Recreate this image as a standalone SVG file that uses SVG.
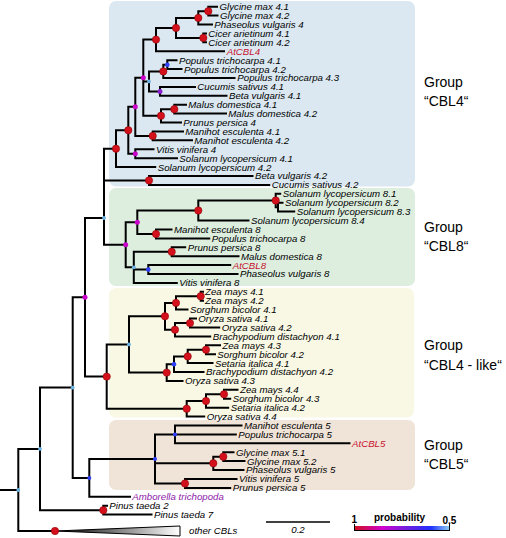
<svg xmlns="http://www.w3.org/2000/svg" width="506" height="538" viewBox="0 0 506 538">
<defs>
<style>
.b{fill:none;stroke:#000;stroke-width:2;stroke-linecap:square}
.t{font-family:"Liberation Sans",Arial,sans-serif;font-style:italic;font-size:9.7px;fill:#000}
.red{fill:#c8102e}
.amb{fill:#8e18a8}
.gl{font-family:"Liberation Sans",Arial,sans-serif;font-size:14px;fill:#000}
.lg{font-family:"Liberation Sans",Arial,sans-serif;font-size:10px;font-weight:bold;fill:#000}
.dr{fill:#d4101c;stroke:#850000;stroke-width:.5}
.dm{fill:#c800c8}
.dv{fill:#8a20d0}
.db{fill:#3040ff}
.dl{fill:#6cb4e4}
</style>
<linearGradient id="prob" x1="0" y1="0" x2="1" y2="0">
<stop offset="0" stop-color="#d0101a"/>
<stop offset="0.3" stop-color="#d000d0"/>
<stop offset="0.55" stop-color="#7020e0"/>
<stop offset="0.8" stop-color="#2030ff"/>
<stop offset="1" stop-color="#90d0f0"/>
</linearGradient>
<linearGradient id="tri" x1="0" y1="0" x2="1" y2="0">
<stop offset="0" stop-color="#000"/>
<stop offset="1" stop-color="#fff"/>
</linearGradient>
</defs>
<rect width="506" height="538" fill="#fff"/>
<g id="groups">
<rect x="109" y="1" width="306" height="185.5" rx="7" fill="#dbe8f1"/>
<rect x="109" y="188" width="306" height="98" rx="7" fill="#ddeedf"/>
<rect x="109" y="288" width="305" height="129.5" rx="7" fill="#f8f8e5"/>
<rect x="109" y="420" width="306" height="70" rx="7" fill="#f0e4d8"/>
</g>
<g id="connectors" class="b">
<path d="M208.3,6.7V15.6M208.3,6.7H217M208.3,15.6H217.5"/>
<path d="M198.3,11.2V24.5M198.3,11.2H208.3M198.3,24.5H212"/>
<path d="M203.3,33.4V42.3M203.3,33.4H206M203.3,42.3H206"/>
<path d="M176,17.9V37.9M176,17.9H198.3M176,37.9H203.3"/>
<path d="M156,27.9V51.3M156,27.9H176M156,51.3H224"/>
<path d="M167.3,60.2V69.1M167.3,60.2H176.5M167.3,69.1H181.5"/>
<path d="M163.3,64.7V78M163.3,64.7H167.3M163.3,78H234.5"/>
<path d="M160,86.9V95.8M160,86.9H195M160,95.8H226.5"/>
<path d="M149,71.4V91.4M149,71.4H163.3M149,91.4H160"/>
<path d="M174.3,104.7V113.6M174.3,104.7H186M174.3,113.6H226"/>
<path d="M161,109.2V122.5M161,109.2H174.3M161,122.5H181"/>
<path d="M143.3,39.6V115.8M143.3,39.6H156M143.3,81.4H149M143.3,115.8H161"/>
<path d="M152.7,131.4V140.3M152.7,131.4H183M152.7,140.3H192"/>
<path d="M135.3,77.7V135.9M135.3,77.7H143.3M135.3,135.9H152.7"/>
<path d="M135.3,149.3V158.2M135.3,149.3H153.5M135.3,158.2H177"/>
<path d="M128.3,106.8V153.8M128.3,106.8H135.3M128.3,153.8H135.3"/>
<path d="M116,130.3V167.1M116,130.3H128.3M116,167.1H155.2"/>
<path d="M149,176V184.9M149,176H252.5M149,184.9H269.2"/>
<path d="M104,148.7V244.8M104,148.7H116M104,180.5H149M104,244.8H125.7"/>
<path d="M278,202.7V211.6M278,202.7H282.5M278,211.6H294.2"/>
<path d="M275.7,193.8V207.2M275.7,193.8H280.2M275.7,207.2H278"/>
<path d="M198.3,200.5V220.5M198.3,200.5H275.7M198.3,220.5H248.5"/>
<path d="M156,229.5V238.4M156,229.5H171.5M156,238.4H209.2"/>
<path d="M137.3,210.5V234M137.3,210.5H198.3M137.3,234H156"/>
<path d="M171.7,247.3V256.2M171.7,247.3H185.2M171.7,256.2H238.5"/>
<path d="M148.3,265.1V274M148.3,265.1H230.2M148.3,274H237.5"/>
<path d="M133.8,251.8V282.9M133.8,251.8H171.7M133.8,269.6H148.3M133.8,282.9H176.8"/>
<path d="M125.7,222.2V267.3M125.7,222.2H137.3M125.7,267.3H133.8"/>
<path d="M200.7,291.8V300.7M200.7,291.8H203M200.7,300.7H203"/>
<path d="M176,296.3V309.6M176,296.3H200.7M176,309.6H187.5"/>
<path d="M190,318.6V327.5M190,318.6H196M190,327.5H219.2"/>
<path d="M175,323.1V336.4M175,323.1H190M175,336.4H210.2"/>
<path d="M165,302.9V329.7M165,302.9H176M165,329.7H175"/>
<path d="M206,345.3V354.2M206,345.3H220M206,354.2H215"/>
<path d="M187.7,349.8V363.1M187.7,349.8H206M187.7,363.1H212.5"/>
<path d="M174,356.4V372M174,356.4H187.7M174,372H203.5"/>
<path d="M166.7,364.2V380.9M166.7,364.2H174M166.7,380.9H182.5"/>
<path d="M129,316.3V372.6M129,316.3H165M129,372.6H166.7"/>
<path d="M224,389.8V398.8M224,389.8H237.5M224,398.8H230.2"/>
<path d="M206,394.3V407.7M206,394.3H224M206,407.7H228.2"/>
<path d="M186.7,401V416.6M186.7,401H206M186.7,416.6H204.2"/>
<path d="M106.7,344.4V408.8M106.7,344.4H129M106.7,408.8H186.7"/>
<path d="M85,218V376.6M85,218H104M85,376.6H106.7"/>
<path d="M175,425.5V443.3M175,425.5H241.5M175,434.4H235.8M175,443.3H349.5"/>
<path d="M223.3,452.2V461.1M223.3,452.2H233.5M223.3,461.1H244.5"/>
<path d="M213.3,456.7V470M213.3,456.7H223.3M213.3,470H243.5"/>
<path d="M185,479V487.9M185,479H236.5M185,487.9H230.2"/>
<path d="M155,434.4V483.5M155,434.4H175M155,463.3H213.3M155,483.5H185"/>
<path d="M89.3,458.9V496.8M89.3,458.9H155M89.3,496.8H130"/>
<path d="M72.7,297.3V477.9M72.7,297.3H85M72.7,477.9H89.3"/>
<path d="M103.3,505.7V514.6M103.3,505.7H107M103.3,514.6H151.5"/>
<path d="M40,387.6V510.2M40,387.6H72.7M40,510.2H103.3"/>
<path d="M18.3,448.9V531M18.3,448.9H40M18.3,531H55M0,490H18.3"/>
</g>
<g id="other-cbls-clade">
<polygon points="55,531 180,526 180,536" fill="url(#tri)" stroke="#000" stroke-width="1"/>
</g>
<g id="support-dots">
<circle class="dr" cx="208.3" cy="11.2" r="3.7"/>
<circle class="dr" cx="198.3" cy="17.9" r="3.7"/>
<circle class="dr" cx="203.3" cy="37.9" r="3.7"/>
<circle class="dr" cx="176" cy="27.9" r="3.7"/>
<circle class="dr" cx="156" cy="39.6" r="3.7"/>
<circle class="dr" cx="163.3" cy="71.4" r="3.7"/>
<circle class="dr" cx="174.3" cy="109.2" r="3.7"/>
<circle class="dr" cx="161" cy="115.8" r="3.7"/>
<circle class="dr" cx="152.7" cy="135.9" r="3.7"/>
<circle class="dr" cx="128.3" cy="130.3" r="3.7"/>
<circle class="dr" cx="116" cy="148.7" r="3.7"/>
<circle class="dr" cx="149" cy="180.5" r="3.7"/>
<circle class="dr" cx="275.7" cy="200.5" r="3.7"/>
<circle class="dr" cx="198.3" cy="210.5" r="3.7"/>
<circle class="dr" cx="156" cy="234" r="3.7"/>
<circle class="dr" cx="171.7" cy="251.8" r="3.7"/>
<circle class="dr" cx="200.7" cy="296.3" r="3.7"/>
<circle class="dr" cx="176" cy="302.9" r="3.7"/>
<circle class="dr" cx="190" cy="323.1" r="3.7"/>
<circle class="dr" cx="175" cy="329.7" r="3.7"/>
<circle class="dr" cx="165" cy="316.3" r="3.7"/>
<circle class="dr" cx="206" cy="349.8" r="3.7"/>
<circle class="dr" cx="187.7" cy="356.4" r="3.7"/>
<circle class="dr" cx="166.7" cy="372.6" r="3.7"/>
<circle class="dr" cx="224" cy="394.3" r="3.7"/>
<circle class="dr" cx="206" cy="401" r="3.7"/>
<circle class="dr" cx="186.7" cy="408.8" r="3.7"/>
<circle class="dr" cx="106.7" cy="376.6" r="3.7"/>
<circle class="dr" cx="223.3" cy="456.7" r="3.7"/>
<circle class="dr" cx="213.3" cy="463.3" r="3.7"/>
<circle class="dr" cx="185" cy="483.5" r="3.7"/>
<circle class="dr" cx="103.3" cy="510.2" r="3.7"/>
<circle class="dr" cx="55" cy="531" r="3.7"/>
<circle class="db" cx="167.3" cy="64.7" r="2.3"/>
<circle class="db" cx="148.3" cy="269.6" r="2.3"/>
<circle class="db" cx="174" cy="364.2" r="2.3"/>
<circle class="db" cx="175" cy="434.4" r="2"/>
<circle class="db" cx="155" cy="458.9" r="2"/>
<circle class="db" cx="89.3" cy="477.9" r="2"/>
<circle class="dv" cx="160" cy="91.4" r="2.5"/>
<circle class="dm" cx="143.3" cy="77.7" r="2.5"/>
<circle class="dm" cx="135.3" cy="106.8" r="2.5"/>
<circle class="dm" cx="135.3" cy="153.8" r="2.5"/>
<circle class="dm" cx="137.3" cy="222.2" r="2.5"/>
<circle class="dm" cx="125.7" cy="244.8" r="2.5"/>
<circle class="dm" cx="85" cy="297.3" r="2.5"/>
<circle class="dl" cx="149" cy="81.4" r="1.9"/>
<circle class="dl" cx="104" cy="218" r="1.9"/>
<circle class="dl" cx="133.8" cy="267.3" r="1.9"/>
<circle class="dl" cx="129" cy="344.4" r="1.9"/>
<circle class="dl" cx="72.7" cy="387.6" r="1.9"/>
<circle class="dl" cx="40" cy="448.9" r="1.9"/>
<circle class="dl" cx="18.3" cy="490" r="1.9"/>
</g>
<g id="leaves" class="t">
<g id="leaf-gm41"><text x="219.5" y="10.1">Glycine max 4.1</text></g>
<g id="leaf-gm42"><text x="220" y="19">Glycine max 4.2</text></g>
<g id="leaf-pv4"><text x="214.3" y="27.9">Phaseolus vulgaris 4</text></g>
<g id="leaf-ca41"><text x="208.3" y="36.8">Cicer arietinum 4.1</text></g>
<g id="leaf-ca42"><text x="208.3" y="45.7">Cicer arietinum 4.2</text></g>
<g id="leaf-atcbl4"><text class="red" x="226.7" y="54.7">AtCBL4</text></g>
<g id="leaf-pt41"><text x="179" y="63.6">Populus trichocarpa 4.1</text></g>
<g id="leaf-pt42"><text x="184" y="72.5">Populus trichocarpa 4.2</text></g>
<g id="leaf-pt43"><text x="237.3" y="81.4">Populus trichocarpa 4.3</text></g>
<g id="leaf-cs41"><text x="197.3" y="90.3">Cucumis sativus 4.1</text></g>
<g id="leaf-bv41"><text x="229" y="99.2">Beta vulgaris 4.1</text></g>
<g id="leaf-md41"><text x="188.3" y="108.1">Malus domestica 4.1</text></g>
<g id="leaf-md42"><text x="228.3" y="117">Malus domestica 4.2</text></g>
<g id="leaf-pp4"><text x="183.3" y="125.9">Prunus persica 4</text></g>
<g id="leaf-me41"><text x="185.3" y="134.8">Manihot esculenta 4.1</text></g>
<g id="leaf-me42"><text x="194.3" y="143.7">Manihot esculenta 4.2</text></g>
<g id="leaf-vv4"><text x="156" y="152.7">Vitis vinifera 4</text></g>
<g id="leaf-sl41"><text x="179.3" y="161.6">Solanum lycopersicum 4.1</text></g>
<g id="leaf-sl42"><text x="157.7" y="170.5">Solanum lycopersicum 4.2</text></g>
<g id="leaf-bv42"><text x="255" y="179.4">Beta vulgaris 4.2</text></g>
<g id="leaf-cs42"><text x="271.7" y="188.3">Cucumis sativus 4.2</text></g>
<g id="leaf-sl81"><text x="282.7" y="197.2">Solanum lycopersicum 8.1</text></g>
<g id="leaf-sl82"><text x="285" y="206.1">Solanum lycopersicum 8.2</text></g>
<g id="leaf-sl83"><text x="296.7" y="215">Solanum lycopersicum 8.3</text></g>
<g id="leaf-sl84"><text x="251" y="223.9">Solanum lycopersicum 8.4</text></g>
<g id="leaf-me8"><text x="174" y="232.9">Manihot esculenta 8</text></g>
<g id="leaf-pt8"><text x="211.7" y="241.8">Populus trichocarpa 8</text></g>
<g id="leaf-pp8"><text x="187.7" y="250.7">Prunus persica 8</text></g>
<g id="leaf-md8"><text x="241" y="259.6">Malus domestica 8</text></g>
<g id="leaf-atcbl8"><text class="red" x="232.7" y="268.5">AtCBL8</text></g>
<g id="leaf-pv8"><text x="240" y="277.4">Phaseolus vulgaris 8</text></g>
<g id="leaf-vv8"><text x="179.3" y="286.3">Vitis vinifera 8</text></g>
<g id="leaf-zm41"><text x="205" y="295.2">Zea mays 4.1</text></g>
<g id="leaf-zm42"><text x="205" y="304.1">Zea mays 4.2</text></g>
<g id="leaf-sb41"><text x="190" y="313">Sorghum bicolor 4.1</text></g>
<g id="leaf-os41"><text x="198.3" y="322">Oryza sativa 4.1</text></g>
<g id="leaf-os42"><text x="221.7" y="330.9">Oryza sativa 4.2</text></g>
<g id="leaf-bd41"><text x="212.7" y="339.8">Brachypodium distachyon 4.1</text></g>
<g id="leaf-zm43"><text x="222.3" y="348.7">Zea mays 4.3</text></g>
<g id="leaf-sb42"><text x="217.3" y="357.6">Sorghum bicolor 4.2</text></g>
<g id="leaf-si41"><text x="215" y="366.5">Setaria italica 4.1</text></g>
<g id="leaf-bd42"><text x="206" y="375.4">Brachypodium distachyon 4.2</text></g>
<g id="leaf-os43"><text x="185" y="384.3">Oryza sativa 4.3</text></g>
<g id="leaf-zm44"><text x="240" y="393.2">Zea mays 4.4</text></g>
<g id="leaf-sb43"><text x="232.7" y="402.2">Sorghum bicolor 4.3</text></g>
<g id="leaf-si42"><text x="230.7" y="411.1">Setaria italica 4.2</text></g>
<g id="leaf-os44"><text x="206.7" y="420">Oryza sativa 4.4</text></g>
<g id="leaf-me5"><text x="244" y="428.9">Manihot esculenta 5</text></g>
<g id="leaf-pt5"><text x="238.3" y="437.8">Populus trichocarpa 5</text></g>
<g id="leaf-atcbl5"><text class="red" x="352" y="446.7">AtCBL5</text></g>
<g id="leaf-gm51"><text x="236" y="455.6">Glycine max 5.1</text></g>
<g id="leaf-gm52"><text x="247" y="464.5">Glycine max 5.2</text></g>
<g id="leaf-pv5"><text x="246" y="473.4">Phaseolus vulgaris 5</text></g>
<g id="leaf-vv5"><text x="239" y="482.4">Vitis vinifera 5</text></g>
<g id="leaf-pp5"><text x="232.7" y="491.3">Prunus persica 5</text></g>
<g id="leaf-amb"><text class="amb" x="132.3" y="500.2">Amborella trichopoda</text></g>
<g id="leaf-pin2"><text x="109.3" y="509.1">Pinus taeda 2</text></g>
<g id="leaf-pin7"><text x="154" y="518">Pinus taeda 7</text></g>
<g id="leaf-other"><text x="189" y="534.4">other CBLs</text></g>
</g>
<g id="group-labels" class="gl">
<g id="label-cbl4"><text x="424" y="87">Group</text><text x="424" y="106">“CBL4“</text></g>
<g id="label-cbl8"><text x="424" y="232">Group</text><text x="424" y="251">“CBL8“</text></g>
<g id="label-cbl4like"><text x="424" y="350">Group</text><text x="424" y="369.5">“CBL4 - like“</text></g>
<g id="label-cbl5"><text x="424" y="450">Group</text><text x="424" y="469">“CBL5“</text></g>
</g>
<g id="scale-bar">
<line x1="266" y1="522" x2="330" y2="522" stroke="#000" stroke-width="1.5"/>
<text class="t" x="298" y="533" text-anchor="middle">0.2</text>
</g>
<g id="probability-legend">
<rect x="354" y="526" width="96" height="4" fill="url(#prob)"/>
<path d="M354,530.5H450M354.5,524V531M449.5,524V531" fill="none" stroke="#000" stroke-width="1"/>
<text class="lg" x="351.5" y="523">1</text>
<text class="lg" x="374" y="521">probability</text>
<text class="lg" x="442.5" y="524">0.5</text>
</g>
</svg>
